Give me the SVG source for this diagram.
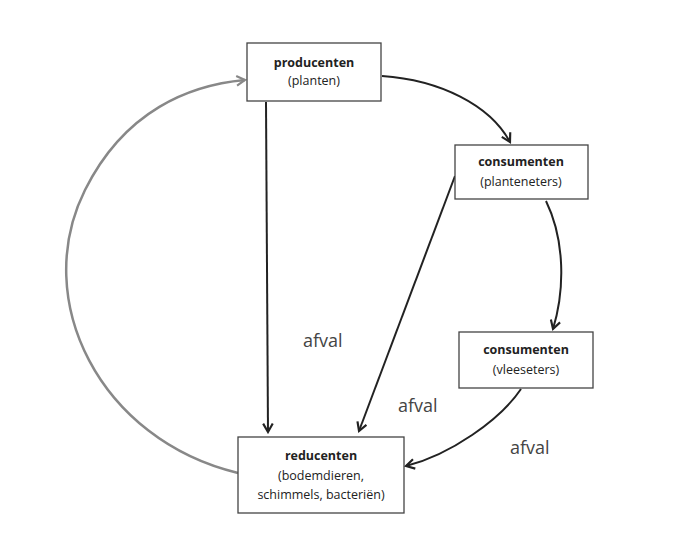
<svg xmlns="http://www.w3.org/2000/svg" width="684" height="533" viewBox="0 0 684 533">
<style>
.box{fill:#fff;stroke:#444;stroke-width:1.3}
.t{font-family:"Open Sans","Liberation Sans",sans-serif;font-size:12.5px;fill:#222;text-anchor:middle}
.b{font-weight:bold}
.c{fill:none;stroke:#222;stroke-width:2}
.g{fill:none;stroke:#888;stroke-width:2.5}
.lbl{font-family:"Open Sans","Liberation Sans",sans-serif;font-size:18px;fill:#444}
</style>
<defs>
<marker id="a" viewBox="0 0 10 10" refX="8" refY="5" markerWidth="12" markerHeight="12" orient="auto" markerUnits="userSpaceOnUse">
<path d="M1,1 L8,5 L1,9" fill="none" stroke="#222" stroke-width="1.8"/></marker>
<marker id="ag" viewBox="0 0 10 10" refX="8" refY="5" markerWidth="12" markerHeight="12" orient="auto" markerUnits="userSpaceOnUse">
<path d="M1,1 L8,5 L1,9" fill="none" stroke="#888" stroke-width="1.8"/></marker>
</defs>
<rect width="684" height="533" fill="#fff"/>
<g id="connectors">
<path class="c" d="M382,76 C440,80 490,105 510,142" marker-end="url(#a)"/>
<path class="c" d="M546,201 C565,240 565,290 553,329" marker-end="url(#a)"/>
<path class="c" d="M521,389 C500,420 450,455 406,466" marker-end="url(#a)"/>
<path class="c" d="M266,102 L268,432" marker-end="url(#a)"/>
<path class="c" d="M455,176 L359,431" marker-end="url(#a)"/>
<path class="g" d="M238,473 C100,440 30,300 85,190 C125,110 190,85 245,80" marker-end="url(#ag)"/>
</g>
<g id="producenten"><rect class="box" x="247" y="43" width="134" height="58"/>
<text class="t b" x="314" y="67">producenten</text><text class="t" x="314" y="85">(planten)</text></g>
<g id="planteneters"><rect class="box" x="455" y="145" width="133" height="54"/>
<text class="t b" x="521" y="166">consumenten</text><text class="t" x="521" y="186">(planteneters)</text></g>
<g id="vleeseters"><rect class="box" x="459" y="332" width="134" height="56"/>
<text class="t b" x="526" y="354">consumenten</text><text class="t" x="526" y="374">(vleeseters)</text></g>
<g id="reducenten"><rect class="box" x="238" y="437" width="166" height="76"/>
<text class="t b" x="321" y="460">reducenten</text><text class="t" x="321" y="480">(bodemdieren,</text><text class="t" x="321" y="499">schimmels, bacteriën)</text></g>
<text class="lbl" x="303" y="347">afval</text>
<text class="lbl" x="398" y="412">afval</text>
<text class="lbl" x="510" y="454">afval</text>
</svg>
